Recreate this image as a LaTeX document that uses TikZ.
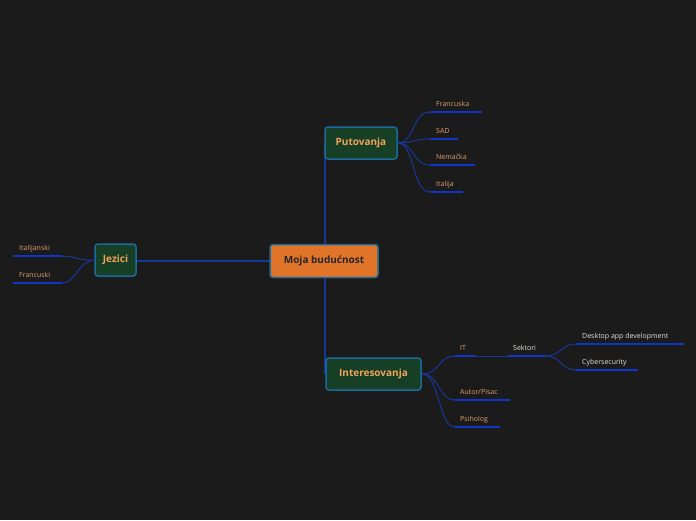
\documentclass[tikz,border=0pt]{standalone}
\usepackage{fontspec}
\setmainfont{Open Sans}
\definecolor{bg}{HTML}{1B1B1B}
\definecolor{bord}{HTML}{1A6A9A}
\definecolor{gfill}{HTML}{173F26}
\definecolor{ofill}{HTML}{E07428}
\definecolor{otext}{HTML}{F0A45A}
\definecolor{ltext}{HTML}{E0A070}
\definecolor{wtext}{HTML}{E8E0D8}
\definecolor{ln}{HTML}{1036C8}
\definecolor{cn}{HTML}{17389A}
\begin{document}
\begin{tikzpicture}[x=1pt,y=-1pt,
 main/.style={draw=bord,line width=1.5pt,rounded corners=3pt,fill=ofill,text=black!85,font=\bfseries\fontsize{10}{12}\selectfont,minimum height=33pt,inner xsep=4pt},
 branch/.style={draw=bord,line width=1.5pt,rounded corners=3pt,fill=gfill,text=otext,font=\bfseries\fontsize{10}{12}\selectfont,minimum height=32pt,inner xsep=4pt},
 leaf/.style={text=ltext,font=\fontsize{7}{8}\selectfont,anchor=base west,inner sep=0pt},
 wleaf/.style={leaf,text=wtext},
 ul/.style={draw=ln,line width=1.5pt},
 cv/.style={draw=cn,line width=1pt}]
\fill[bg] (0,0) rectangle (696,520);
\useasboundingbox (0,0) rectangle (696,520);
\coordinate (c1) at (325,143); \coordinate (c2) at (325,374);
\draw[cn,line width=1.5pt] (c1) -- (c2);
\draw[cn,line width=1.5pt] (136,261) -- (270,261);
\node[main,minimum width=108pt] (m) at (324,261) {Moja budućnost};
\node[branch,minimum width=72pt] (p) at (361,143) {Putovanja};
\node[branch,minimum width=41pt] (j) at (115.5,260) {Jezici};
\node[branch,minimum width=95pt] (i) at (373.5,374) {Interesovanja};
% Putovanja leaves
\foreach \t/\y/\e [count=\k] in {Francuska/112/482,SAD/139/458,Nemačka/165/475,Italija/192/463}{
  \coordinate (ps\k) at (430,\y); \coordinate (pe\k) at (\e,\y);
  \draw[ul] (ps\k) -- (pe\k);
  \node[leaf] (pl\k) at (436,\y-6) {\t};
  \draw[cv] (p.east) .. controls (415,143) and (412,\y) .. (ps\k);
}
% Jezici leaves
\foreach \t/\y [count=\k] in {Italijanski/256,Francuski/283}{
  \coordinate (js\k) at (62,\y); \coordinate (je\k) at (13,\y);
  \draw[ul] (js\k) -- (je\k);
  \node[leaf] (jl\k) at (19,\y-6) {\t};
  \draw[cv] (j.west) .. controls (78,261) and (76,\y) .. (js\k);
}
% Interesovanja leaves
\foreach \t/\y/\e [count=\k] in {IT/356/475,{Autor/Pisac}/400/510,Psiholog/427/500}{
  \coordinate (is\k) at (455,\y); \coordinate (ie\k) at (\e,\y);
  \draw[ul] (is\k) -- (ie\k);
  \node[leaf] (il\k) at (460,\y-6) {\t};
  \draw[cv] (i.east) .. controls (440,374) and (438,\y) .. (is\k);
}
\coordinate (ss) at (508,356); \coordinate (se) at (545,356);
\draw[cv] (ie1) -- (ss);
\draw[ul] (ss) -- (se);
\node[wleaf] (s) at (513,350) {Sektori};
\foreach \t/\y/\e [count=\k] in {Desktop app development/344/684,Cybersecurity/370/638}{
  \coordinate (ds\k) at (576,\y); \coordinate (de\k) at (\e,\y);
  \draw[ul] (ds\k) -- (de\k);
  \node[wleaf] (dl\k) at (582,\y-6) {\t};
  \draw[cv] (se) .. controls (562,356) and (560,\y) .. (ds\k);
}
\end{tikzpicture}
\end{document}
